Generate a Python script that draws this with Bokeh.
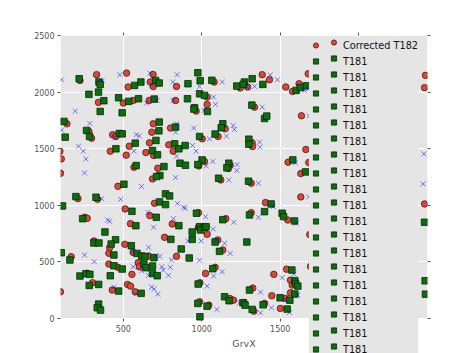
from bokeh.plotting import figure
from bokeh.models import (Range1d, Legend, LegendItem, LinearAxis, FixedTicker,
                          CustomJSTickFormatter, BoxAnnotation)
from bokeh.embed import file_html
from bokeh.resources import INLINE

# ---- data ----
x_limits = [100, 2438]
y_limits = [0, 2500]
x_ticks = [500, 1000, 1500, 2000]
y_ticks = [0, 500, 1000, 1500, 2000, 2500]
x_label = "GrvX"
red_label = "Corrected T182"
green_label = "T181"
green_label_count = 19

red_x = [224, 330, 521, 531, 690, 672, 691, 342, 500, 563, 665, 833, 839, 141, 281, 298, 432, 453,
         691, 682, 801, 667, 538, 417, 519, 644, 693, 790, 818, 96, 105, 100, 568, 720, 686,
         1079, 1245, 1292, 1385, 1431, 1535, 1578, 1620, 1678, 1034, 1034, 964, 1336, 1635, 1149,
         1003, 1104, 1321, 1323, 1663, 1017, 981, 1181, 1170, 1550, 1682, 1631,
         466, 211, 336, 512, 255, 270, 546, 699, 669, 812, 763, 313, 413, 408, 510, 563, 661, 839,
         168, 408, 466, 595, 602, 555, 270, 304, 430, 527, 546, 576, 100,
         1121, 1315, 1406, 1631, 1315, 1548, 1153, 979, 1688, 979, 1034, 1102, 1134, 1024, 1085,
         988, 1325, 1459, 1540, 1565, 1576, 1565, 1179, 1202, 1270, 1446, 1533, 1400, 1501, 1332,
         986, 1045, 1693,
         2425, 2419, 2419]
red_y = [2103, 2154, 2168, 2045, 2155, 2089, 2050, 1909, 1903, 1926, 1926, 1926, 2050, 1720, 1652, 1593, 1623, 1608,
         1720, 1646, 1682, 1552, 1522, 1478, 1443, 1466, 1440, 1534, 1478, 1478, 1410, 1283, 1336, 1328, 1233,
         2089, 2036, 2045, 2154, 2109, 2045, 2006, 2074, 2162, 1956, 1891, 1832, 1867, 1791, 1676,
         1587, 1608, 1552, 1519, 1493, 1387, 1348, 1354, 1325, 1381, 1378, 1280,
         1168, 1059, 1053, 968, 894, 885, 838, 1018, 909, 835, 717, 685, 626, 576, 655, 584, 552, 549,
         546, 481, 452, 493, 457, 390, 399, 316, 251, 301, 286, 236, 236,
         1224, 1195, 1024, 1074, 935, 870, 882, 935, 741, 806, 744, 694, 605, 398, 452,
         316, 269, 390, 436, 339, 295, 227, 177, 162, 142, 201, 177, 133, 89, 65,
         148, 118, 460,
         2148, 2039, 1012]

green_x = [219, 345, 353, 572, 612, 706, 729, 281, 342, 376, 353, 470, 493, 534, 597, 697, 122, 130,
           266, 285, 474, 493, 729, 727, 833, 708, 576, 453, 686, 718, 827, 854, 582, 759, 861, 733, 712,
           975, 912, 990, 1064, 1223, 1272, 1264, 1321, 1389, 1601, 1628, 1666, 909, 986, 1017, 954, 950,
           1036, 1319, 1400, 1414, 1134, 1124, 986, 1085, 1300, 1300, 894, 1002, 975, 896, 1172, 1160,
           1580, 1661,
           504, 113, 198, 326, 555, 241, 580, 731, 769, 795, 769, 710, 854, 803, 383, 313, 345, 451,
           423, 440, 551, 587, 618, 638, 695, 869, 160, 105, 440, 493, 631, 644, 686, 686, 716, 224,
           262, 287, 283, 343, 417, 470, 614, 343, 334, 355,
           1107, 1298, 1442, 1400, 1304, 1512, 1521, 1591, 1134, 966, 939, 986, 992, 1017, 1028, 939,
           1085, 1113, 1287, 920, 1070, 977, 1304, 1574, 1593, 1597, 1612, 1593, 1145, 1174, 1262,
           1276, 1499, 1561, 1391, 1544, 1321, 975, 1034, 988,
           2419, 2423, 2425]
green_y = [2118, 2089, 2068, 2059, 2089, 2103, 2080, 1980, 2000, 1924, 1829, 1950, 1817, 1918, 1941, 1938, 1741, 1602,
           1661, 1608, 1634, 1631, 1735, 1658, 1691, 1573, 1549, 1499, 1484, 1446, 1543, 1499, 1351, 1342, 1372, 1263, 1254,
           2171, 2074, 2101, 2104, 2053, 2089, 2068, 2118, 2068, 2015, 2040, 2055, 1941, 1985, 1971, 1862, 1850,
           1829, 1885, 1767, 1788, 1720, 1685, 1608, 1629, 1584, 1540, 1528, 1401, 1360, 1354, 1372, 1331,
           1401, 1295,
           1186, 994, 1077, 1071, 947, 882, 820, 1030, 1101, 1083, 1006, 894, 820, 699, 764, 667, 667, 696,
           658, 561, 643, 575, 552, 546, 537, 614, 517, 581, 466, 437, 481, 449, 463, 398, 378, 375,
           396, 390, 292, 301, 378, 242, 222, 127, 95, 74,
           1239, 1213, 1012, 944, 915, 930, 900, 862, 873, 930, 764, 811, 782, 806, 811, 699,
           676, 593, 676, 534, 440, 304, 251, 428, 334, 310, 286, 216, 192, 157, 139,
           118, 183, 162, 121, 83, 80, 133, 109, 15,
           850, 333, 215]

blue_x = [107, 366, 478, 669, 816, 843, 684, 194, 648, 716, 816, 107, 287, 447, 584, 602, 839, 833,
          215, 245, 262, 568, 839, 253, 833,
          986, 1130, 1293, 1336, 1436, 1482, 1654, 1680, 1013, 1087, 1075, 1385, 1684, 949, 1200, 1208,
          1049, 1157, 1368, 1370, 941, 964, 1070, 1028, 1225, 1223, 1597,
          616, 362, 483, 400, 413, 657, 693, 820, 846, 884, 661, 708, 733, 807, 253, 315, 563, 616,
          661, 746, 754, 799, 788, 440, 580, 680, 697, 720, 559,
          1172, 1361, 1455, 1682, 1361, 1601, 1204, 1024, 1073, 1094, 996, 1145, 1181, 911, 986,
          1075, 1130, 1034, 1374, 1512, 1588, 1612, 1240, 1529, 1444, 1559, 1374, 1096, 894,
          2415, 2410]
blue_y = [2109, 2103, 2154, 2168, 2089, 2154, 2062, 1832, 1903, 1926, 1926, 1664, 1723, 1596, 1623, 1614, 1720, 1646,
          1522, 1478, 1410, 1478, 1434, 1286, 1245,
          2050, 2089, 2039, 2050, 2151, 2109, 2015, 2030, 1838, 1891, 1956, 1867, 1791, 1682, 1705, 1670,
          1587, 1611, 1558, 1513, 1528, 1478, 1387, 1348, 1360, 1307, 1375,
          1166, 1059, 1053, 870, 859, 938, 806, 882, 1015, 983, 629, 555, 549, 517, 561, 502, 457, 422,
          381, 457, 428, 452, 381, 278, 216, 278, 260, 216, 590,
          1224, 1195, 988, 1074, 894, 841, 850, 900, 791, 693, 685, 664, 575, 685, 514,
          375, 413, 286, 233, 360, 393, 207, 139, 168, 95, 53, 50, 80, 974,
          1454, 1189]

# ---- figure ----
FONT = "DejaVu Sans"
GRAY = "#555555"
BG = "#E5E5E5"

# The frame runs to the bottom of the page so that the legend can hang below the
# axes (as in the reference); the x axis is pinned at y = 0 and the band below it is white.
FRAME_TOP, FRAME_AXIS, FRAME_BOTTOM = 35, 318, 353
y_extra = (y_limits[1] - y_limits[0]) * (FRAME_BOTTOM - FRAME_AXIS) / (FRAME_AXIS - FRAME_TOP)

p = figure(width=474, height=353, output_backend="svg", toolbar_location=None,
           x_range=Range1d(*x_limits), y_range=Range1d(y_limits[0] - y_extra, y_limits[1]),
           min_border_left=60, min_border_right=47, min_border_top=FRAME_TOP, min_border_bottom=0,
           background_fill_color="white", border_fill_color="white", outline_line_color=None)

p.add_layout(BoxAnnotation(bottom=y_limits[0], fill_color=BG, fill_alpha=1,
                           line_color=None, level="image"))

r_red = p.scatter(red_x, red_y, marker="circle", size=6.5, fill_color="#D9473A",
                  line_color="#4a1a14", line_width=0.8)
r_green = p.scatter(green_x, green_y, marker="square", size=6.5, fill_color="#0b700b",
                    line_color="#0a250a", line_width=0.8)
r_blue = p.scatter(blue_x, blue_y, marker="x", size=7, line_color="#0000ff",
                   line_alpha=0.5, line_width=1)

for ax, ticks in ((p.xaxis[0], x_ticks), (p.yaxis[0], y_ticks)):
    ax.ticker = FixedTicker(ticks=ticks)
    ax.axis_line_color = None
    ax.major_tick_line_color = GRAY
    ax.major_tick_in = 0
    ax.major_tick_out = 3
    ax.minor_tick_line_color = None
    ax.major_label_text_font = FONT
    ax.major_label_text_font_size = "8px"
    ax.major_label_text_color = GRAY
    ax.major_label_standoff = 3

p.xaxis.fixed_location = y_limits[0]
p.xaxis.axis_label = x_label
p.xaxis.axis_label_text_font = FONT
p.xaxis.axis_label_text_font_size = "9.5px"
p.xaxis.axis_label_text_font_style = "normal"
p.xaxis.axis_label_text_color = GRAY
p.xaxis.axis_label_standoff = 3

top_ax = LinearAxis(ticker=FixedTicker(ticks=x_ticks),
                    formatter=CustomJSTickFormatter(code="return ''"),
                    axis_line_color=None, major_tick_line_color=GRAY, major_tick_in=0,
                    major_tick_out=3, minor_tick_line_color=None, major_label_standoff=0)
p.add_layout(top_ax, "above")
right_ax = LinearAxis(ticker=FixedTicker(ticks=y_ticks),
                      formatter=CustomJSTickFormatter(code="return ''"),
                      axis_line_color=None, major_tick_line_color=GRAY, major_tick_in=0,
                      major_tick_out=3, minor_tick_line_color=None, major_label_standoff=0)
p.add_layout(right_ax, "right")

p.xgrid.ticker = FixedTicker(ticks=x_ticks)
p.ygrid.ticker = FixedTicker(ticks=y_ticks)
p.grid.grid_line_color = "white"
p.grid.grid_line_width = 1

# ---- legend (two markers per entry, like matplotlib) ----
labels = [red_label] + [green_label] * green_label_count
rends = [r_red] + [r_green] * green_label_count

leg_a = Legend(items=[LegendItem(label=l, renderers=[r]) for l, r in zip(labels, rends)],
               location=(249, -4), orientation="vertical",
               glyph_width=13, glyph_height=16, label_height=16, label_standoff=21,
               spacing=0, padding=3, margin=0,
               label_text_font=FONT, label_text_font_size="9.7px", label_text_color="#111111",
               background_fill_color=BG, background_fill_alpha=1,
               border_line_color=None)
leg_b = Legend(items=[LegendItem(label=" ", renderers=[r]) for r in rends],
               location=(267, -1), orientation="vertical",
               glyph_width=13, glyph_height=16, label_height=16, label_standoff=2,
               spacing=0, padding=0, margin=0,
               label_text_font=FONT, label_text_font_size="9.7px",
               background_fill_alpha=0, border_line_color=None)
p.add_layout(leg_a, "center")
p.add_layout(leg_b, "center")

open("out.html", "w").write(file_html(p, INLINE))
